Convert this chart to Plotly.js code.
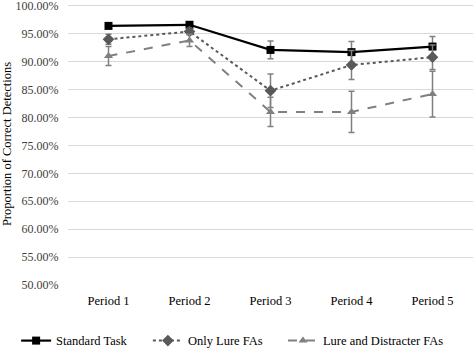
<!DOCTYPE html>
<html>
<head>
<meta charset="utf-8">
<script src="https://cdn.plot.ly/plotly-3.0.1.min.js"></script>
<style>html,body{margin:0;padding:0;background:#fff;}#chart{width:474px;height:349px;}</style>
</head>
<body>
<div id="chart"></div>
<script>
const periods = ["Period 1", "Period 2", "Period 3", "Period 4", "Period 5"];
const standardTask = [0.964, 0.966, 0.921, 0.917, 0.927];
const standardErr = [0.005, 0.004, 0.016, 0.019, 0.018];
const onlyLure = [0.940, 0.954, 0.848, 0.894, 0.908];
const onlyLureErr = [0.009, 0.006, 0.030, 0.026, 0.022];
const lureDistracter = [0.910, 0.938, 0.810, 0.810, 0.842];
const lureDistracterErr = [0.017, 0.011, 0.026, 0.037, 0.041];
const seriesNames = ["Standard Task", "Only Lure FAs", "Lure and Distracter FAs"];

const errStyle = (arr) => ({type: 'data', array: arr, visible: true, color: '#808080', thickness: 1.5, width: 3});
const ff = 'Liberation Serif, Times New Roman, serif';

const traces = [
  {x: periods, y: standardTask, name: seriesNames[0], legend: 'legend', type: 'scatter', mode: 'lines+markers',
   line: {color: '#000000', width: 2.2}, marker: {symbol: 'square', size: 8, color: '#000000'},
   error_y: errStyle(standardErr)},
  {x: periods, y: onlyLure, name: seriesNames[1], legend: 'legend2', type: 'scatter', mode: 'lines+markers',
   line: {color: '#595959', width: 2, dash: 'dot'}, marker: {symbol: 'diamond', size: 9, color: '#595959'},
   error_y: errStyle(onlyLureErr)},
  {x: periods, y: lureDistracter, name: seriesNames[2], legend: 'legend3', type: 'scatter', mode: 'lines+markers',
   line: {color: '#808080', width: 2, dash: 'dash'}, marker: {symbol: 'triangle-up', size: 8, color: '#808080'},
   error_y: errStyle(lureDistracterErr)}
];

const legendBase = (x) => ({orientation: 'h', xref: 'container', yref: 'container', x: x, xanchor: 'left',
  y: 0.023, yanchor: 'middle', font: {family: ff, size: 12.5, color: '#000'}, itemwidth: 30, bgcolor: 'rgba(0,0,0,0)'});

const layout = {
  width: 474, height: 349,
  margin: {l: 68, r: 1, t: 3, b: 64, autoexpand: false},
  paper_bgcolor: '#ffffff', plot_bgcolor: '#ffffff',
  font: {family: ff, color: '#000', size: 12},
  showlegend: true,
  legend: legendBase(0.034),
  legend2: legendBase(0.312),
  legend3: legendBase(0.597),
  xaxis: {type: 'category', range: [-0.5, 4.5], showgrid: false, zeroline: false, showline: false,
          ticks: 'outside', ticklen: 4, tickcolor: 'rgba(0,0,0,0)', tickfont: {family: ff, size: 12.5, color: '#000'}},
  yaxis: {range: [0.5, 1.005], dtick: 0.05, tick0: 0.5, tickformat: '.2%', showgrid: true, gridcolor: '#d9d9d9', gridwidth: 1,
          zeroline: false, showline: false, ticks: 'outside', ticklen: 6, tickcolor: 'rgba(0,0,0,0)',
          ticklabeloverflow: 'allow',
          tickfont: {family: ff, size: 12, color: '#404040'},
          title: {text: 'Proportion of Correct Detections', font: {family: ff, size: 12.5, color: '#000'}, standoff: 4}}
};

Plotly.newPlot('chart', traces, layout, {displayModeBar: false, staticPlot: true});
</script>
</body>
</html>
